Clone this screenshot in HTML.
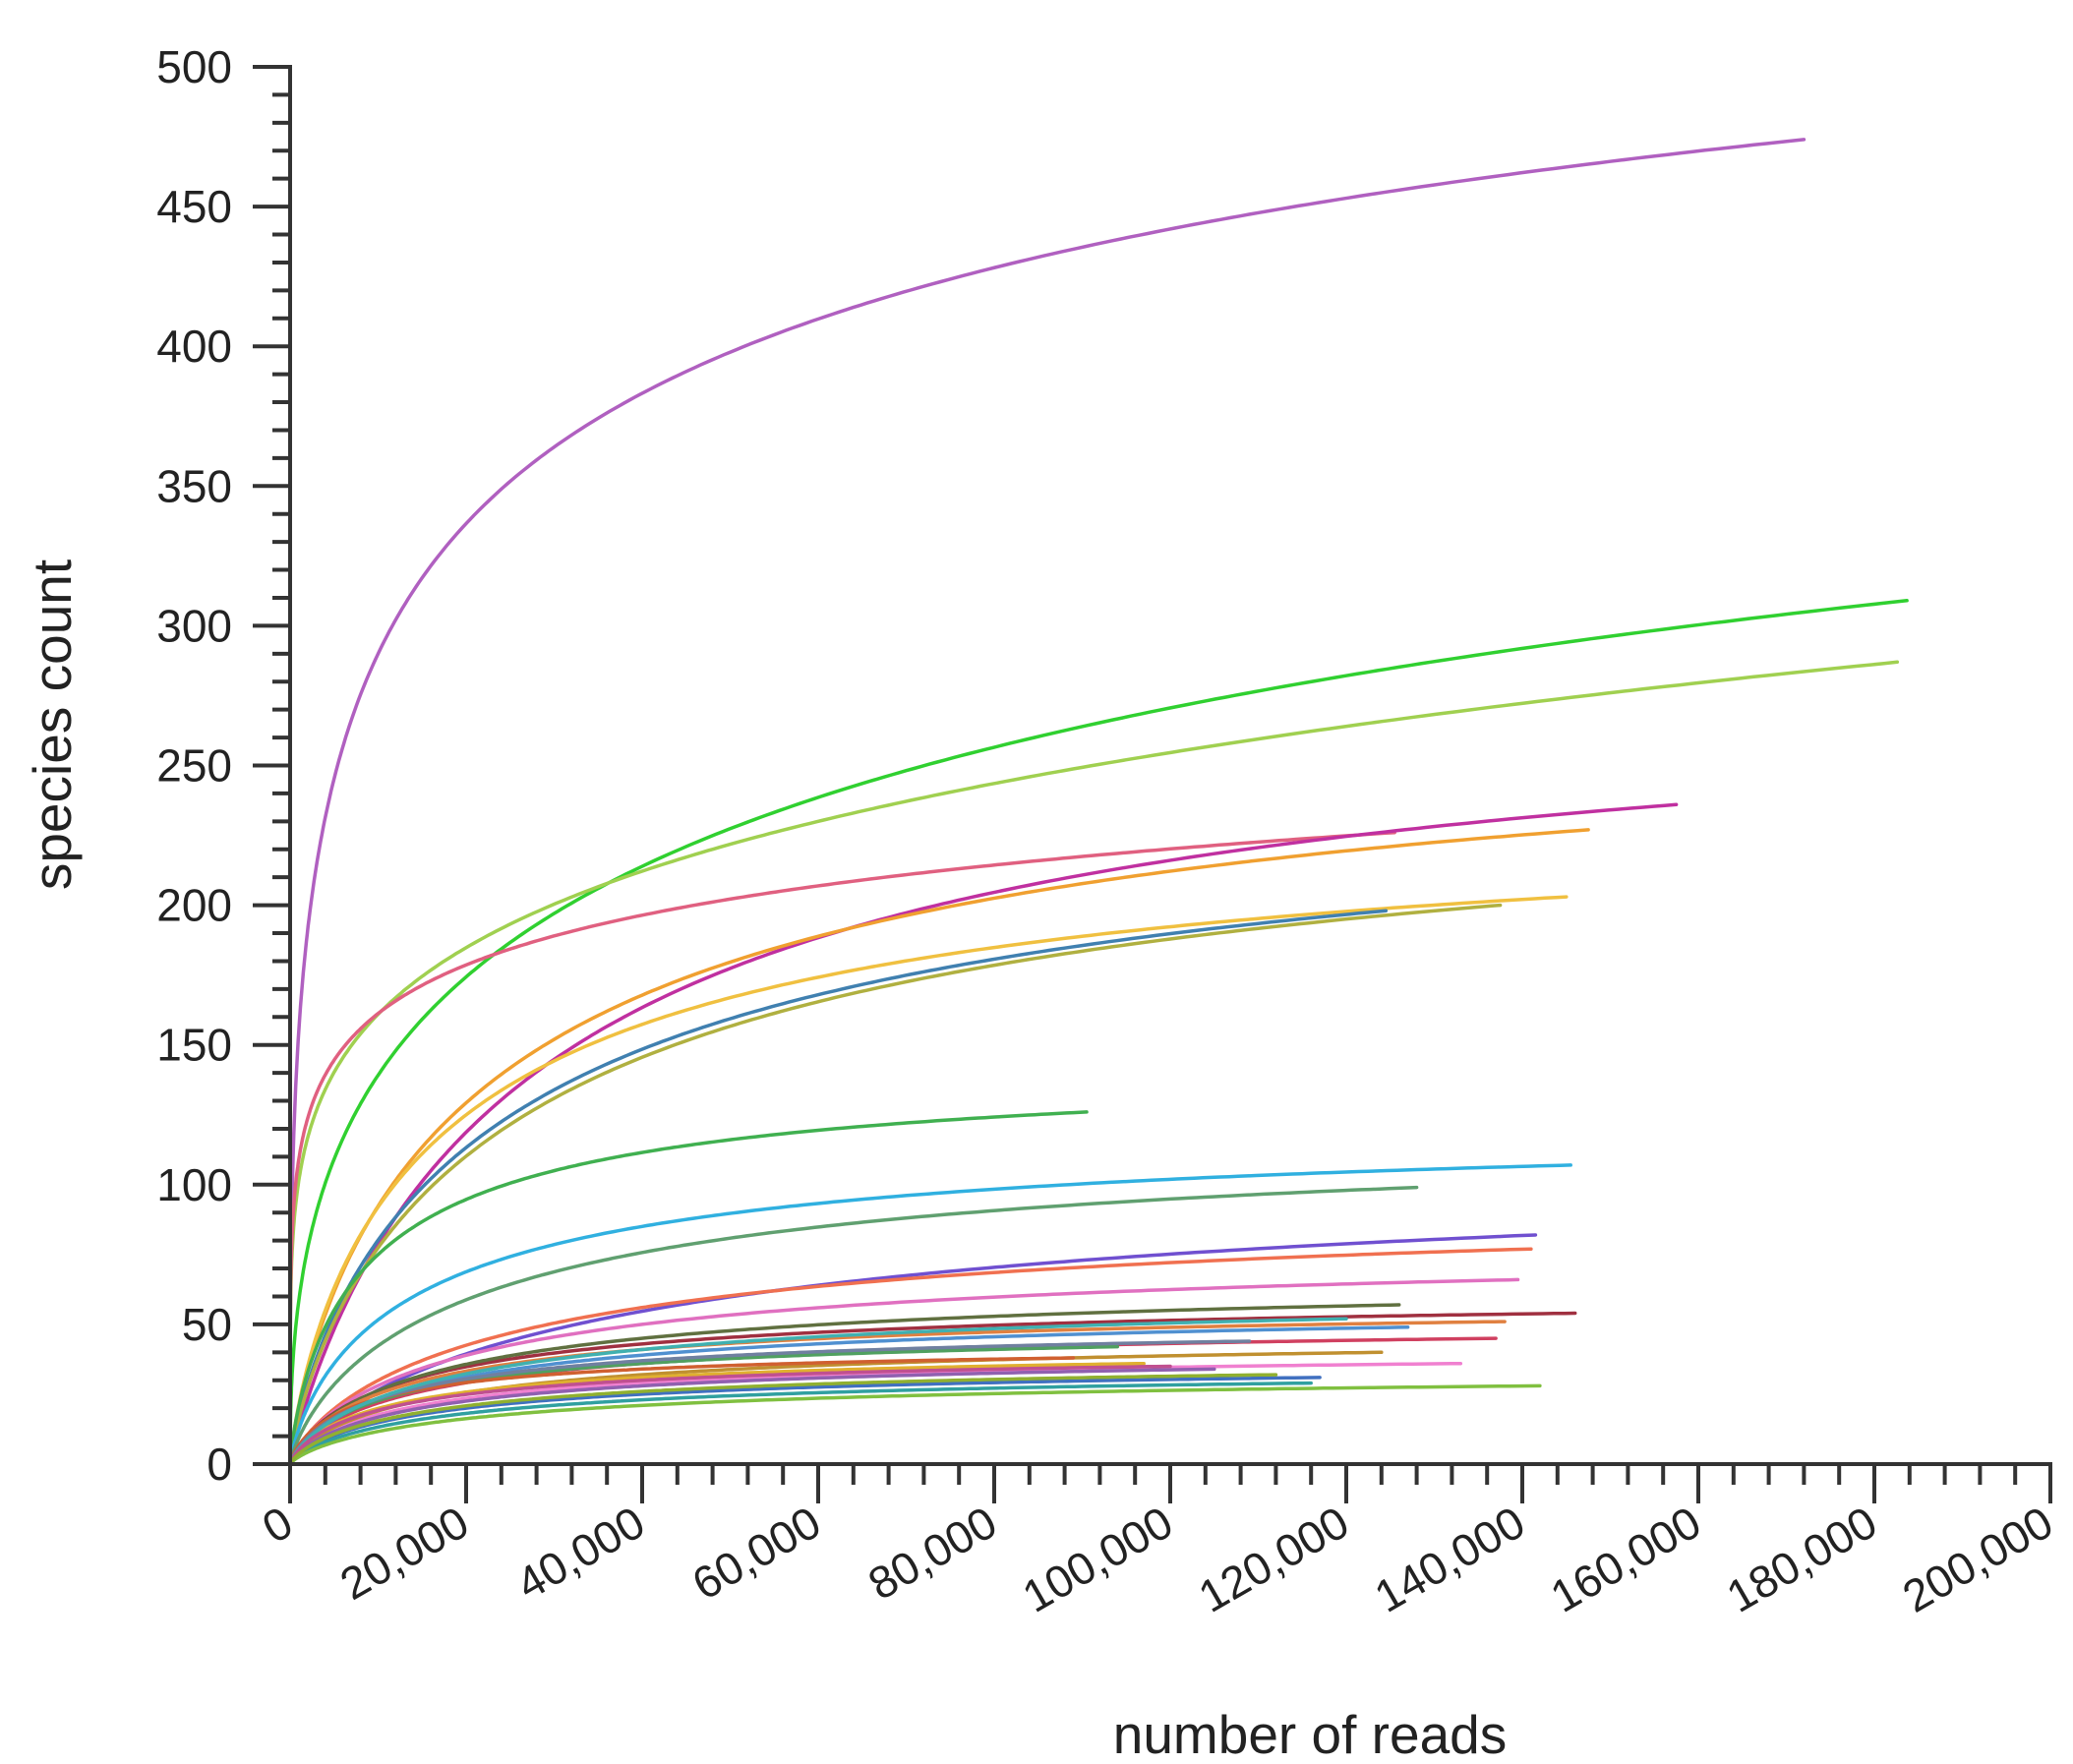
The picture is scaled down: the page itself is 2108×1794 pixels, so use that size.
<!DOCTYPE html>
<html><head><meta charset="utf-8"><style>html,body{margin:0;padding:0;background:#fff}svg{display:block}</style></head>
<body>
<svg id="s" width="2108" height="1794" xmlns="http://www.w3.org/2000/svg" font-family="Liberation Sans, Arial, sans-serif">
<rect width="2108" height="1794" fill="#fff"/>
<g id="curves" fill="none" stroke-width="3.5" stroke-linecap="round"></g>
<g id="axes" stroke="#333" stroke-width="4"></g>
<g id="labels" fill="#222" font-size="46"></g>
<text x="1332" y="1783" font-size="55" text-anchor="middle" fill="#222">number of reads</text>
<text transform="translate(72,737) rotate(-90)" font-size="55" text-anchor="middle" fill="#222">species count</text>
</svg>
<script>
var NS="http://www.w3.org/2000/svg";
function px(x){return 295+x*8.95;}
function py(y){return 1489-y*2.842;}
function el(t,a,p){var e=document.createElementNS(NS,t);for(var k in a)e.setAttribute(k,a[k]);p.appendChild(e);return e;}
var ax=document.getElementById('axes'),lb=document.getElementById('labels');
el('line',{x1:295,y1:66,x2:295,y2:1491},ax);
el('line',{x1:293,y1:1489,x2:2087,y2:1489},ax);
for(var v=0;v<=500;v+=10){var y=py(v);var maj=v%50==0;el('line',{x1:maj?257:277,y1:y,x2:295,y2:y},ax);
 if(maj){var t=el('text',{x:236,y:y+16,'text-anchor':'end'},lb);t.textContent=v;}}
for(var x=0;x<=200;x+=4){var X=px(x);var maj=x%20==0;el('line',{x1:X,y1:1489,x2:X,y2:maj?1529:1510},ax);
 if(maj){var s=x==0?'0':(x+',000');var t=el('text',{'text-anchor':'end',transform:'translate('+(X+6)+',1558) rotate(-30)'},lb);t.textContent=s;}}
var C=[
['#b060c0',0.4,9.7,288,172,474],
['#30d030',0.45,21,177,183.7,309],
['#a0d050',0.2,9.7,160,182.6,287],
['#e06080',0.25,5.1,145,125.5,226],
['#c030a0',0.9,32.5,150,157.5,236],
['#f0a030',0.8,21,132,147.5,227],
['#f0c040',0.8,32.5,148,145,203],
['#4080b0',0.8,32.5,138,124.5,198],
['#b0b040',0.8,32.5,135,137.5,200],
['#40b050',0.8,21,96,90.5,126],
['#30b0e0',0.8,21,70,145.5,107],
['#60a070',0.8,21,60,128,99],
['#7050d0',0.8,32.5,50,141.5,82],
['#f07050',0.8,32.5,52,141,77],
['#e070c0',0.8,40,50,139.5,66],
['#a03040',0.8,40,43,146,54],
['#607040',0.8,40,45,126,57],
['#e08040',0.8,40,41,138,51],
['#d04060',0.8,40,36,137,45],
['#5090d0',0.8,40,39,127,49],
['#f080d0',0.8,40,29,133,36],
['#c09030',0.8,40,32,124,40],
['#4070c0',0.8,40,25,117,31],
['#30a0a0',0.8,40,23,116,29],
['#80c040',0.8,40,21,142,28],
['#9060b0',0.8,40,28,105,34],
['#50a060',0.8,40,36,94,42],
['#d06030',0.8,40,34,89,38],
['#e0b030',0.8,40,31,97,36],
['#7080a0',0.8,40,37,109,44],
['#40b0b0',0.8,40,41,120,52],
['#c05090',0.8,40,30,100,35],
['#90b030',0.8,40,26,112,32]
];
var g=document.getElementById('curves');
C.forEach(function(c){var k=c[1];var a1=Math.pow(c[2],-k),a2=Math.pow(c[4],-k);
 var b=(1/c[3]-1/c[5])/(a1-a2);var a=1/c[3]-b*a1;
 var d='M'+px(0)+','+py(0);var n=300;
 for(var i=1;i<=n;i++){var x=c[4]*Math.pow(i/n,2.5);var y=1/(a+b*Math.pow(x,-k));if(y<0)y=0;d+=' L'+px(x).toFixed(1)+','+py(y).toFixed(1);}
 el('path',{d:d,stroke:c[0]},g);});
</script>
</body></html>
